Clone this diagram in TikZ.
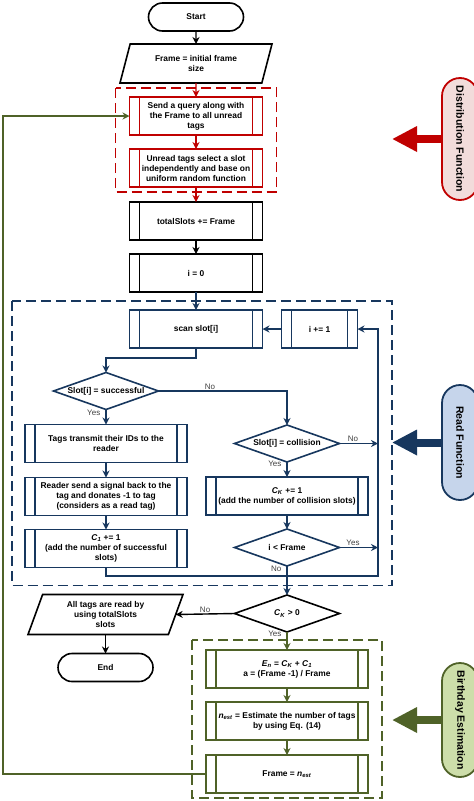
\documentclass[tikz,border=0pt]{standalone}
\usepackage{fontspec}
\setmainfont{Liberation Sans}
\usetikzlibrary{shapes.geometric, arrows.meta, positioning, calc, fit, backgrounds}
\definecolor{distRed}{RGB}{192, 0, 0}
\definecolor{distPink}{RGB}{242, 220, 219}
\definecolor{readBlue}{RGB}{23, 55, 94}
\definecolor{readLight}{RGB}{198, 213, 235}
\definecolor{estGreen}{RGB}{79, 98, 40}
\definecolor{estLight}{RGB}{205, 222, 170}
\definecolor{labelGray}{RGB}{64, 64, 64}
\newcommand{\sub}[2]{\textit{#1}\textsubscript{\textit{#2}}}

\begin{document}
\begin{tikzpicture}[
        x=1pt, y=-1pt,
        node distance=14pt,
        box/.style={rectangle, draw=#1, line width=1.6pt, outer sep=0pt, minimum width=133pt, minimum height=38pt, align=center, inner sep=2pt, font=\fontsize{8.4}{10}\selectfont\bfseries,
            path picture={\draw[#1, line width=1.6pt] ([xshift=10pt]path picture bounding box.north west) -- ([xshift=10pt]path picture bounding box.south west) ([xshift=-10pt]path picture bounding box.north east) -- ([xshift=-10pt]path picture bounding box.south east);}},
        box/.default=black,
        wide/.style={minimum width=162pt},
        term/.style={rectangle, rounded corners=14pt, draw, line width=1.6pt, outer sep=0pt, minimum width=95pt, minimum height=28pt, font=\fontsize{8.4}{10}\selectfont\bfseries},
        io/.style={trapezium, trapezium left angle=66, trapezium right angle=114, trapezium stretches body, draw, line width=1.6pt, outer sep=0pt, minimum width=152pt, minimum height=39pt, inner xsep=0pt, align=center, font=\fontsize{8.4}{10}\selectfont\bfseries},
        decision/.style={diamond, draw=#1, line width=1.6pt, outer sep=0pt, minimum width=105pt, minimum height=37pt, aspect=2.8, inner sep=0pt, align=center, font=\fontsize{8.4}{10}\selectfont\bfseries},
        decision/.default=readBlue,
        arrow/.style={-{Stealth[length=7pt, width=7pt]}, line width=1.4pt, #1},
        arrow/.default=black,
        lbl/.style={font=\fontsize{8}{10}\selectfont, text=labelGray, inner sep=1pt},
        groupbox/.style={draw=#1, line width=1.8pt, dash pattern=on 10pt off 5pt},
        pill/.style={rectangle, draw=#1, rounded corners=18pt, rotate=-90, outer sep=0pt, minimum height=36pt, line width=1.8pt, font=\fontsize{10.5}{12}\selectfont\bfseries},
        bigarrow/.style={line width=8pt, #1, -{Triangle[length=25pt, width=24pt]}}
    ]
        \useasboundingbox (0,0) rectangle (474,801);

        % Init nodes
        \node[term] (start) at (196,17) {Start};
        \node[io, below=13pt of start] (frame) {Frame = initial frame\\size};

        % Distribution nodes
        \node[box=distRed, below=of frame] (query) {Send a query along with\\the Frame to all unread\\tags};
        \node[box=distRed, below=of query] (unread) {Unread tags select a slot\\independently and base on\\uniform random function};
        \node[box, below=15pt of unread] (total) {totalSlots += Frame};
        \node[box, below=of total] (izero) {i = 0};

        % Read nodes
        \node[box=readBlue, below=18pt of izero] (scan) {scan slot[i]};
        \node[box=readBlue, minimum width=76pt, right=19pt of scan] (incr) {i += 1};
        \node[decision] (succ) at (106,391) {Slot[i] = successful};
        \node[box=readBlue, wide, below=15pt of succ] (transmit) {Tags transmit their IDs to the\\reader};
        \node[box=readBlue, wide, below=15pt of transmit] (reader) {Reader send a signal back to the\\tag and donates -1 to tag\\(considers as a read tag)};
        \node[box=readBlue, wide, below=of reader] (cone) {\sub{C}{1} += 1\\(add the number of successful\\slots)};
        \node[decision] (coll) at (287,443.5) {Slot[i] = collision};
        \node[box=readBlue, wide, below=15pt of coll] (ck) {\sub{C}{K} += 1\\(add the number of collision slots)};
        \node[decision, below=of ck] (ilt) {i < Frame};
        \coordinate (loopx) at (378,576);

        % Estimation nodes
        \node[decision=black, below=29pt of ilt] (ckpos) {\sub{C}{K} > 0};
        \node[io, minimum width=155pt, minimum height=40pt] (alltags) at (105.5,614.5) {All tags are read by\\using totalSlots\\slots};
        \node[term, below=19pt of alltags] (endn) {End};
        \node[box=estGreen, wide, below=18pt of ckpos] (en) {\sub{E}{n} = \sub{C}{K} + \sub{C}{1}\\a = (Frame -1) / Frame};
        \node[box=estGreen, wide, below=of en] (nest) {\sub{n}{est} = Estimate the number of tags\\by using Eq. (14)};
        \node[box=estGreen, wide, below=15pt of nest] (frameset) {Frame = \sub{n}{est}};
        \coordinate (backx) at (3,0);

        % Group boxes
        \draw[groupbox=distRed] ($(query.north west)+(-14,-9)$) rectangle ($(unread.south east)+(14,5)$);
        \draw[groupbox=readBlue] ($(transmit.west |- scan.north)+(-13,-9)$) rectangle ($(ck.east |- cone.south)+(24,18)$);
        \draw[groupbox=estGreen] ($(en.north west)+(-14,-10)$) rectangle ($(frameset.south east)+(14,5)$);

        % Side labels
        \node[pill=distRed, fill=distPink, minimum width=122pt] (distpill) at (460,139) {Distribution Function};
        \node[pill=readBlue, fill=readLight, minimum width=115pt] (readpill) at (460,442.5) {Read Function};
        \node[pill=estGreen, fill=estLight, minimum width=114pt] (estpill) at (460,720) {Birthday Estimation};
        \coordinate (tipx) at (392,0);
        \draw[bigarrow=distRed] (distpill.south) -- (distpill.south -| tipx);
        \draw[bigarrow=readBlue] (readpill.south) -- (readpill.south -| tipx);
        \draw[bigarrow=estGreen] (estpill.south) -- (estpill.south -| tipx);

        % Arrows
        \draw[arrow] (start) -- (frame);
        \draw[arrow=distRed] (frame) -- (query);
        \draw[arrow=distRed] (query) -- (unread);
        \draw[arrow=distRed] (unread) -- (total);
        \draw[arrow] (total) -- (izero);
        \draw[arrow=readBlue] (izero) -- (scan);
        \draw[arrow=readBlue] (incr) -- (scan);
        \draw[arrow=readBlue] (scan.south) -- ++(0,10) -| (succ.north);
        \draw[arrow=readBlue] (succ.east) -| node[lbl, above, pos=0.2] {No} (coll.north);
        \draw[arrow=readBlue] (succ.south) -- node[lbl, left=4pt, pos=0.2] {Yes} (transmit);
        \draw[arrow=readBlue] (transmit) -- (reader);
        \draw[arrow=readBlue] (reader) -- (cone);
        \draw[arrow=readBlue] (cone.south) |- (loopx) |- (incr.east);
        \draw[arrow=readBlue] (coll.east) -- node[lbl, above, pos=0.35] {No} (coll.east -| loopx);
        \draw[arrow=readBlue] (coll.south) -- node[lbl, left=4pt, pos=0.1] {Yes} (ck);
        \draw[arrow=readBlue] (ck) -- (ilt);
        \draw[arrow=readBlue] (ilt.east) -- node[lbl, above, pos=0.35] {Yes} (ilt.east -| loopx);
        \draw[arrow=readBlue] (ilt.south) -- node[lbl, left=4pt, pos=0.1] {No} (ckpos.north);
        \draw[arrow] (ckpos.west) -- node[lbl, above, pos=0.5] {No} (alltags.east);
        \draw[arrow] (alltags.south) -- (endn);
        \draw[arrow=estGreen] (ckpos.south) -- node[lbl, left=4pt, pos=0.1] {Yes} (en);
        \draw[arrow=estGreen] (en) -- (nest);
        \draw[arrow=estGreen] (nest) -- (frameset);
        \draw[arrow=estGreen] (frameset.west) -- (frameset.west -| backx) |- (query.west);
    \end{tikzpicture}
\end{document}
